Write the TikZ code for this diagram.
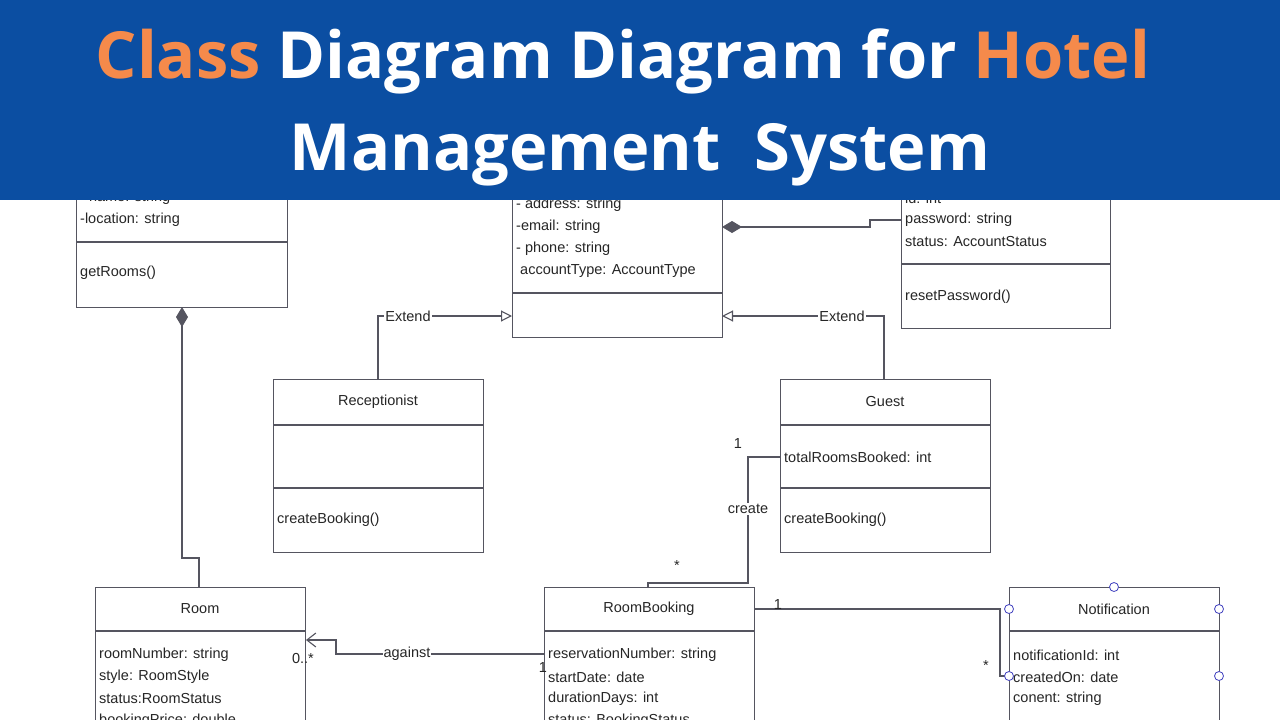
\documentclass[tikz,border=0pt]{standalone}
\usepackage{fontspec}
\setmainfont{Liberation Sans}
\newfontfamily\titlefont{Open Sans}
\usetikzlibrary{arrows.meta}
\definecolor{banner}{HTML}{0B4EA2}
\definecolor{orng}{HTML}{F58A4B}
\definecolor{ln}{HTML}{555560}
\tikzset{
 box/.style={draw=ln, line width=1.3pt, anchor=north west, inner sep=0pt},
 conn/.style={draw=ln, line width=1.1pt},
 txt/.style={anchor=west, inner sep=0pt, font=\fontsize{14.5}{16}\selectfont, text=black!85},
 ctxt/.style={inner sep=0pt, font=\fontsize{14.5}{16}\selectfont, text=black!85},
 lbl/.style={fill=white, inner sep=1pt, font=\fontsize{14.5}{16}\selectfont, text=black!85},
 handle/.style={circle, draw=blue!50!gray, fill=white, line width=0.8pt, minimum size=9pt, inner sep=0pt},
 titletxt/.style={font=\titlefont\bfseries\fontsize{65}{70}\selectfont, text=white},
 dia/.style={{Diamond[length=20pt,width=12pt]}-}
}
\begin{document}
\begin{tikzpicture}[x=1pt,y=-1pt]
\useasboundingbox (0,0) rectangle (1280,720);
\clip (0,0) rectangle (1280,720);
\fill[white] (0,0) rectangle (1280,720);
% Hotel
\node[box, minimum width=211pt, minimum height=160pt] (hotel) at (76,147) {};
\draw[conn] (76,242) -- (287,242);
\node[txt] (h1) at (80,198) {- name: string};
\node[txt] (h2) at (80,220) {-location: string};
\node[txt] (h3) at (80,273) {getRooms()};
% Account
\node[box, minimum width=210pt, minimum height=190pt] (acct) at (512,147) {};
\draw[conn] (512,293) -- (722,293);
\node[txt] (a1) at (516,205) {- address: string};
\node[txt] (a2) at (516,227) {-email: string};
\node[txt] (a3) at (516,249) {- phone: string};
\node[txt] (a4) at (520,271) {accountType: AccountType};
% Login
\node[box, minimum width=209pt, minimum height=181pt] (login) at (901,147) {};
\draw[conn] (901,264) -- (1110,264);
\node[txt] (l0) at (905,198) {id: int};
\node[txt] (l1) at (905,220) {password: string};
\node[txt] (l2) at (905,242) {status: AccountStatus};
\node[txt] (l3) at (905,297) {resetPassword()};
% Receptionist
\node[box, minimum width=210pt, minimum height=173pt] (recep) at (273,379) {};
\draw[conn] (273,425) -- (483,425) (273,488) -- (483,488);
\node[ctxt] (rt) at (378,402) {Receptionist};
\node[txt] (r1) at (277,520) {createBooking()};
% Guest
\node[box, minimum width=210pt, minimum height=173pt] (guest) at (780,379) {};
\draw[conn] (780,425) -- (990,425) (780,488) -- (990,488);
\node[ctxt] (gt) at (885,402) {Guest};
\node[txt] (g1) at (784,457) {totalRoomsBooked: int};
\node[txt] (g2) at (784,520) {createBooking()};
% Room
\node[box, minimum width=210pt, minimum height=160pt] (room) at (95,587) {};
\draw[conn] (95,631) -- (305,631);
\node[ctxt] (rmt) at (200,609) {Room};
\node[txt] (rm1) at (99,655) {roomNumber: string};
\node[txt] (rm2) at (99,677) {style: RoomStyle};
\node[txt] (rm3) at (99,699) {status:RoomStatus};
\node[txt] (rm4) at (99,721) {bookingPrice: double};
% RoomBooking
\node[box, minimum width=210pt, minimum height=160pt] (rb) at (544,587) {};
\draw[conn] (544,631) -- (754,631);
\node[ctxt] (rbt) at (649,609) {RoomBooking};
\node[txt] (rb1) at (548,655) {reservationNumber: string};
\node[txt] (rb2) at (548,677) {startDate: date};
\node[txt] (rb3) at (548,699) {durationDays: int};
\node[txt] (rb4) at (548,721) {status: BookingStatus};
% Notification
\node[box, minimum width=210pt, minimum height=160pt] (notif) at (1009,587) {};
\draw[conn] (1009,631) -- (1219,631);
\node[ctxt] (nt) at (1114,609) {Notification};
\node[txt] (n1) at (1013,655) {notificationId: int};
\node[txt] (n2) at (1013,677) {createdOn: date};
\node[txt] (n3) at (1013,699) {conent: string};
% connectors
\coordinate (hd) at (182,307);
\draw[conn, dia] (hd) -- (182,558) -- (199,558) -- (199,587);
\draw[conn, dia] (722,227) -- (870,227) -- (870,220) -- (901,220);
\draw[conn, -{Triangle[open,length=11pt,width=11pt]}] (378,379) -- (378,316) -- (512,316);
\node[lbl] (e1) at (408,316) {Extend};
\draw[conn, -{Triangle[open,length=11pt,width=11pt]}] (884,379) -- (884,316) -- (722,316);
\node[lbl] (e2) at (842,316) {Extend};
\draw[conn] (780,457) -- (748,457) -- (748,583) -- (648,583) -- (648,587);
\node[lbl] (cr) at (748,509) {create};
\node[ctxt] (c1) at (738,444) {1};
\node[ctxt] (c2) at (677,566) {*};
\draw[conn, -{Straight Barb[length=9pt,width=14pt]}] (544,654) -- (336,654) -- (336,640) -- (306,640);
\node[lbl] (ag) at (407,654) {against};
\node[ctxt] (ag1) at (303,659) {0..*};
\node[ctxt] (ag2) at (543,668) {1};
\draw[conn] (754,609) -- (1000,609) -- (1000,676) -- (1009,676);
\node[ctxt] (nn1) at (778,605) {1};
\node[ctxt] (nn2) at (986,666) {*};
\foreach \p in {(1114,587),(1009,609),(1219,609),(1009,676),(1219,676)} \node[handle] at \p {};
% banner
\fill[banner] (0,0) rectangle (1280,200);
\node[titletxt, anchor=base] (t1) at (623,78) {\textcolor{orng}{Class} Diagram Diagram for \textcolor{orng}{Hotel}};
\node[titletxt, anchor=base] (t2) at (640,170) {Management\ \ System};
\end{tikzpicture}
\end{document}
